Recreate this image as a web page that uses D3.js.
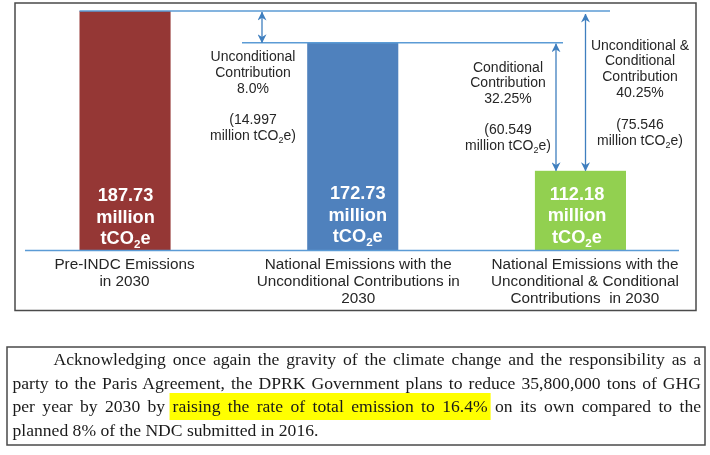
<!DOCTYPE html>
<html lang="en">
<head>
<meta charset="UTF-8">
<title>Emissions in 2030</title>
<script src="https://d3js.org/d3.v7.min.js"></script>
<style>
    body { margin: 0; background: #fff; }
    svg { display: block; filter: blur(0.4px); } /* the original is a soft screenshot */
    .lbl { font-family: "Liberation Sans", Arial, sans-serif; fill: #262626; text-anchor: middle; }
    .val { font-family: "Liberation Sans", Arial, sans-serif; fill: #fff; font-weight: bold; text-anchor: middle; }
    .para { font-family: "Liberation Serif", "Times New Roman", serif; fill: #1a1a1a; }
</style>
</head>
<body>
<div id="chart"></div>
<script>
    // values
    var categories = ["Pre-INDC", "Unconditional", "Conditional"];
    var emissions = [187.73, 172.73, 112.18];
    var barColors = ["#953735", "#4f81bd", "#92d050"];
    var valueLines = [
        ["187.73", "million", "tCO2e"],
        ["172.73", "million", "tCO2e"],
        ["112.18", "million", "tCO2e"]
    ];
    var categoryLines = [
        ["Pre-INDC Emissions", "in 2030"],
        ["National Emissions with the", "Unconditional Contributions in", "2030"],
        ["National Emissions with the", "Unconditional & Conditional", "Contributions  in 2030"]
    ];
    var noteLines = [
        ["Unconditional", "Contribution", "8.0%", "", "(14.997", "million tCO2e)"],
        ["Conditional", "Contribution", "32.25%", "", "(60.549", "million tCO2e)"],
        ["Unconditional &", "Conditional", "Contribution", "40.25%", "", "(75.546", "million tCO2e)"]
    ];
    var paragraph = [
        "Acknowledging once again the gravity of the climate change and the responsibility as a",
        "party to the Paris Agreement, the DPRK Government plans to reduce 35,800,000 tons of GHG",
        "per year by 2030 by raising the rate of total emission to 16.4% on its own compared to the",
        "planned 8% of the NDC submitted in 2016."
    ];
    var highlighted = "raising the rate of total emission to 16.4%";

    var lineBlue = "#5b9bd5", arrowBlue = "#3f7fbf";

    var svg = d3.select("#chart").append("svg").attr("width", 710).attr("height", 455);

    var defs = svg.append("defs");
    defs.append("marker").attr("id", "tip").attr("viewBox", "0 0 10 10")
        .attr("refX", 9.5).attr("refY", 5)
        .attr("markerWidth", 9).attr("markerHeight", 9)
        .attr("markerUnits", "userSpaceOnUse").attr("orient", "auto-start-reverse")
        .append("path").attr("d", "M0,0L10,5L0,10L3,5Z").attr("fill", arrowBlue);

    // outer frame
    svg.append("rect").attr("x", 15).attr("y", 3).attr("width", 681).attr("height", 307.5)
        .attr("fill", "#fff").attr("stroke", "#4a4a4a").attr("stroke-width", 1.5);

    // bars do not start at zero in the original, the axis is cut off
    var x = d3.scaleBand().domain(categories).range([79.5, 626]).paddingInner(0.6).paddingOuter(0);
    var y = d3.scaleLinear().domain([74.5, 187.73]).range([250.5, 11]);

    svg.append("g").selectAll("rect")
        .data(categories)
        .join("rect")
        .attr("x", function (d) { return x(d); })
        .attr("y", function (d, i) { return y(emissions[i]); })
        .attr("width", x.bandwidth())
        .attr("height", function (d, i) { return y.range()[0] - y(emissions[i]); })
        .attr("fill", function (d, i) { return barColors[i]; });

    // baseline and the two reference lines
    function hline(x1, x2, yy) {
        svg.append("line").attr("x1", x1).attr("x2", x2).attr("y1", yy).attr("y2", yy)
            .attr("stroke", lineBlue).attr("stroke-width", 1.5);
    }
    hline(25, 679, y.range()[0]);
    hline(x(categories[0]), 610, y(emissions[0]));
    hline(242, 563, y(emissions[1]));

    function arrow(xx, v1, v2, gap) {
        svg.append("line").attr("x1", xx).attr("x2", xx)
            .attr("y1", y(v1) + (gap || 0)).attr("y2", y(v2))
            .attr("stroke", arrowBlue).attr("stroke-width", 1.3)
            .attr("marker-start", "url(#tip)").attr("marker-end", "url(#tip)");
    }
    arrow(262, emissions[0], emissions[1], 1);
    arrow(556, emissions[1], emissions[2], 1);
    arrow(585.5, emissions[0], emissions[2], 3);

    // writes one line of text, the 2 of tCO2e goes down as a subscript
    function writeLine(sel, str, size) {
        var i = str.indexOf("CO2");
        if (i < 0) { sel.text(str); return; }
        sel.append("tspan").text(str.slice(0, i + 2));
        sel.append("tspan").text("2").attr("dy", size * 0.22).style("font-size", (size * 0.64) + "px");
        sel.append("tspan").text(str.slice(i + 3)).attr("dy", -size * 0.22);
    }

    function block(cls, lines, cx, firstY, lead, size) {
        lines.forEach(function (str, i) {
            if (!str) return;
            var t = svg.append("text").attr("class", cls)
                .attr("x", cx).attr("y", firstY + i * lead)
                .style("font-size", size + "px")
                .style("white-space", "pre");
            writeLine(t, str, size);
        });
    }

    // text sits a little off the bar centres in the original
    var valueY = [201, 199, 199.5];
    var valueShift = [0.5, 5, -3.5];
    var labelShift = [-0.5, 5.5, 4.5];
    categories.forEach(function (c, i) {
        var mid = x(c) + x.bandwidth() / 2;
        block("val", valueLines[i], mid + valueShift[i], valueY[i], 21.5, 18.2);
        block("lbl", categoryLines[i], mid + labelShift[i], 268.5, 17.3, 15.3);
    });

    block("lbl", noteLines[0], 253, 61, 15.8, 14);
    block("lbl", noteLines[1], 508, 71.5, 15.7, 14);
    block("lbl", noteLines[2], 640, 49.5, 15.9, 14);

    // quotation box below the chart
    svg.append("rect").attr("x", 7).attr("y", 347).attr("width", 698).attr("height", 98)
        .attr("fill", "#fff").attr("stroke", "#4a4a4a").attr("stroke-width", 1.5);

    var paraY = d3.scalePoint().domain(d3.range(paragraph.length)).range([365, 436]);
    var paraSize = 17.6;
    paragraph.forEach(function (str, i) {
        var left = i === 0 ? 53.5 : 12.5;
        var t = svg.append("text").attr("class", "para")
            .attr("x", left).attr("y", paraY(i))
            .style("font-size", paraSize + "px")
            .text(str);
        // justify every line but the last one against the right edge
        if (i < paragraph.length - 1) {
            var gaps = str.split(" ").length - 1;
            t.style("word-spacing", ((701 - left - t.node().getComputedTextLength()) / gaps) + "px");
        }
        var at = str.indexOf(highlighted);
        if (at >= 0) {
            var n = t.node();
            var a = n.getStartPositionOfChar(at).x;
            var b = n.getEndPositionOfChar(at + highlighted.length - 1).x;
            svg.insert("rect", "text.para").attr("x", a - 3).attr("y", 393)
                .attr("width", b - a + 6).attr("height", 27).attr("fill", "#ffff00");
        }
    });
</script>
</body>
</html>
